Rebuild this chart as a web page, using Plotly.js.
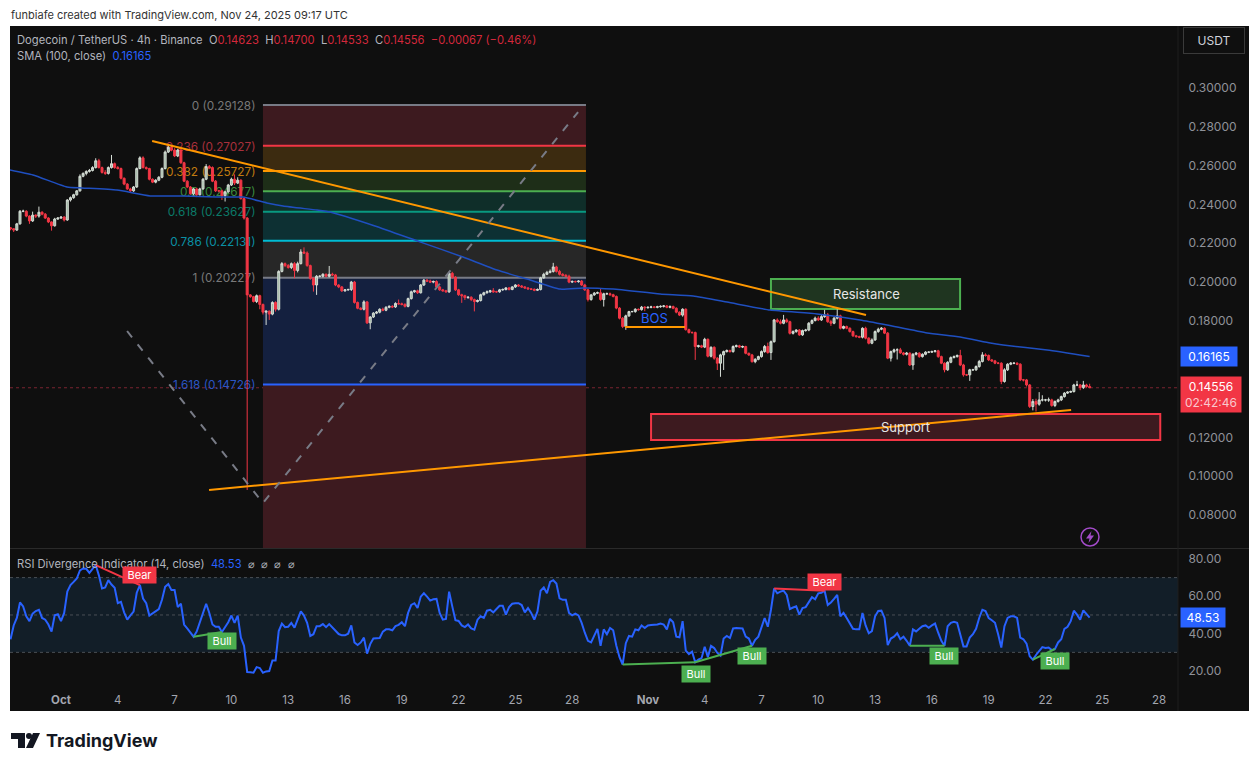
<!DOCTYPE html>
<html><head><meta charset="utf-8">
<script src="https://cdn.plot.ly/plotly-3.0.1.min.js"></script>
<style>html,body{margin:0;padding:0;background:#fff}#c{width:1259px;height:768px}</style>
</head><body><div id="c"></div>
<script>
const closes=[
.2275,.2268,.2300,.2365,.2365,.2340,.2315,.2345,.2340,.2360,
.2350,.2330,.2310,.2290,.2325,.2330,.2335,.2320,.2423,.2435,
.2450,.2470,.2545,.2560,.2570,.2575,.2590,.2625,.2590,.2565,
.2560,.2590,.2610,.2590,.2585,.2535,.2505,.2480,.2470,.2490,
.2585,.2640,.2590,.2585,.2530,.2515,.2525,.2540,.2585,.2670,
.2695,.2680,.2650,.2680,.2615,.2520,.2490,.2455,.2480,.2450,
.2480,.2530,.2595,.2590,.2520,.2470,.2470,.2445,.2465,.2500,
.2530,.2510,.2525,.2430,.2330,.1934,.1925,.1900,.1930,.1885,
.1845,.1850,.1835,.1895,.1860,.2055,.2095,.2085,.2075,.2095,
.2060,.2095,.2155,.2150,.2085,.2020,.1985,.2030,.2030,.2040,
.2030,.2040,.2037,.1985,.1975,.1955,.1960,.1962,.2000,.1895,
.1865,.1860,.1898,.1790,.1820,.1840,.1845,.1860,.1855,.1870,
.1875,.1872,.1890,.1888,.1885,.1875,.1915,.1950,.1955,.1945,
.1985,.2010,.2005,.2000,.2003,.1975,.1960,.1955,.1950,.2045,
.2025,.1960,.1935,.1930,.1920,.1922,.1910,.1900,.1905,.1935,
.1945,.1950,.1955,.1950,.1950,.1960,.1962,.1970,.1962,.1975,
.1985,.1980,.1975,.1970,.1965,.1963,.1958,.1962,.2022,.2040,
.2050,.2055,.2078,.2055,.2040,.2035,.2030,.2000,.2003,.2002,
.2005,.1985,.1960,.1910,.1934,.1943,.1945,.1910,.1940,.1940,
.1935,.1926,.1866,.1814,.1771,.1826,.1848,.1848,.1860,.1858,
.1871,.1868,.1870,.1872,.1870,.1873,.1875,.1877,.1870,.1874,
.1865,.1845,.1830,.1860,.1755,.1740,.1740,.1668,.1672,.1665,
.1705,.1618,.1664,.1608,.1582,.1625,.1642,.1647,.1642,.1668,
.1672,.1665,.1668,.1633,.1625,.1590,.1602,.1616,.1642,.1668,
.1637,.1693,.1805,.1796,.1788,.1805,.1796,.1736,.1745,.1753,
.1728,.1750,.1753,.1788,.1802,.1814,.1805,.1822,.1831,.1796,
.1788,.1814,.1826,.1762,.1771,.1762,.1745,.1723,.1719,.1716,
.1762,.1711,.1685,.1702,.1745,.1757,.1762,.1737,.1608,.1642,
.1651,.1651,.1635,.1628,.1634,.1573,.1628,.1634,.1616,.1628,
.1639,.1639,.1642,.1646,.1616,.1582,.1548,.1587,.1611,.1616,
.1622,.1573,.1522,.1522,.1548,.1548,.1565,.1591,.1625,.1622,
.1599,.1594,.1582,.1582,.1488,.1548,.1577,.1582,.1582,.1577,
.1496,.1496,.1470,.1359,.1385,.1371,.1393,.1393,.1393,.1393,
.1364,.1385,.1393,.1410,.1428,.1433,.1436,.1470,.1470,.1457,
.1470,.14623,.14556];
const firstOpen=.2280;
// wick lengths in units of 0.0001
const upperWick=[
4,3,5,6,8,5,4,18,4,29, 5,6,4,3,6,4,4,5,4,6, 5,4,10,5,6,8,7,13,10,5, 12,6,45,6,8,5,4,5,6,5,
6,8,8,6,4,4,5,6,6,8, 11,8,10,7,6,5,5,5,5,6, 6,6,13,8,6,6,5,6,5,6, 8,25,15,5,4,5,4,4,6,5,
4,4,4,6,6,6,8,6,8,6, 8,10,14,24,8,5,5,6,5,6, 5,43,8,5,4,5,4,4,6,6, 5,6,8,5,5,5,6,5,8,6,
5,6,6,20,6,6,5,6,5,6, 5,6,6,8,5,6,5,5,5,8, 8,6,5,5,5,5,5,5,5,5, 5,7,5,14,5,5,5,4,5,4,
4,5,5,5,4,4,4,5,5,8, 8,10,21,6,8,6,6,8,6,5, 5,6,6,5,5,6,6,24,5,6, 6,5,5,5,6,6,4,4,5,4,
6,5,5,6,4,5,5,5,5,6, 5,5,4,5,5,5,6,5,5,5, 8,5,5,5,5,6,5,6,5,6, 6,5,5,4,4,5,6,5,6,8,
20,6,5,8,12,26,8,5,6,4, 5,5,6,6,6,8,10,8,26,10, 10,6,34,6,5,5,5,5,5,5, 5,8,5,8,6,8,6,5,6,5,
6,8,10,5,6,4,6,6,5,5, 5,5,5,4,5,5,5,5,6,6, 5,29,6,5,5,5,6,8,14,8, 5,5,5,6,5,8,5,6,5,5,
5,5,5,5,12,14,40,24,5,12, 6,5,6,5,5,4,5,6,21,5, 21,6,14];
const lowerWick=[
8,10,4,4,5,6,15,5,10,8, 6,5,6,25,4,5,5,8,4,8, 6,5,4,5,10,6,5,5,5,6, 8,6,5,6,5,6,6,5,8,5,
5,4,5,6,6,5,6,5,5,5, 5,6,6,6,6,5,6,5,8,12, 4,4,5,8,5,6,8,22,30,5, 5,10,5,5,8,1005,6,5,8,25,
12,66,30,6,12,6,5,8,6,8, 40,10,4,5,6,8,34,51,5,6, 5,6,5,6,6,6,5,5,8,6, 5,5,6,6,33,5,5,6,5,5,
5,6,5,5,5,6,5,5,5,6, 4,5,5,5,6,6,5,4,4,6, 8,6,6,37,12,6,8,51,5,5, 5,5,6,5,5,5,5,5,5,4,
5,5,5,5,4,4,5,4,5,5, 4,5,6,6,6,6,5,6,5,5, 5,5,6,10,6,5,5,6,36,6, 5,5,6,6,8,17,5,4,6,5,
5,18,5,5,5,5,5,6,5,5, 5,6,5,8,5,5,6,69,6,5, 5,6,6,8,35,70,78,5,5,6, 5,5,5,5,6,5,8,5,5,6,
6,38,5,6,6,5,6,6,6,6, 5,5,5,6,5,5,6,5,6,6, 14,5,6,6,5,5,5,5,5,5, 6,6,6,5,5,6,5,5,5,17,
8,50,5,6,6,5,25,6,6,5, 5,5,4,5,6,5,13,5,5,4, 5,6,9,6,31,5,5,6,5,6, 6,5,5,5,14,6,6,5,5,5,
6,8,8,8,20,38,8,8,8,10, 6,8,6,6,5,4,4,5,6,14, 8,6,2];
const rsiValues=[
37.0,44.4,48.4,56.7,54.6,49.3,46.7,50.7,52.1,52.8,48.4,47.5,44.9,41.1,49.8,50.4,46.7,51.1,62.5,66.0,
67.7,69.5,73.9,74.9,74.7,72.5,74.7,76.7,71.2,64.2,64.7,68.6,66.3,64.6,56.3,57.0,51.4,47.5,49.8,51.8,
61.9,66.0,58.8,56.3,49.7,50.9,51.8,53.2,58.1,65.1,66.5,63.3,63.3,54.2,56.0,44.9,42.8,40.5,38.4,41.1,
45.8,50.2,56.0,51.1,44.9,43.7,43.7,40.9,43.2,46.1,49.7,45.8,49.7,37.9,33.5,19.5,19.3,19.1,22.1,21.6,
19.1,19.8,20.0,25.6,25.6,41.4,45.4,43.5,43.7,45.8,43.2,47.2,51.9,49.7,45.8,38.8,39.7,44.0,44.0,45.1,
43.5,45.1,43.2,41.1,39.8,39.1,39.1,40.0,44.4,35.3,33.9,35.3,37.9,29.3,34.4,37.4,37.6,37.7,41.1,42.3,
42.3,41.8,44.0,44.7,46.1,44.0,51.1,55.4,56.3,53.7,59.8,61.6,59.8,57.7,58.4,58.6,51.1,47.5,47.9,62.5,
54.6,47.2,46.8,44.4,43.5,44.9,42.8,42.1,47.5,49.3,48.4,52.3,52.8,51.4,53.2,54.9,54.9,50.2,54.2,56.0,
56.3,56.3,55.3,51.4,53.7,51.1,47.5,51.9,63.0,64.7,61.6,67.7,68.6,66.8,58.9,58.1,58.1,51.1,49.8,50.7,
49.8,45.8,40.5,36.2,35.3,39.1,42.6,33.5,42.3,39.7,43.0,41.8,33.5,27.4,23.5,34.9,38.8,38.4,42.3,41.8,
44.4,43.0,44.4,44.6,44.7,44.9,45.4,44.9,42.3,47.9,46.1,38.4,38.1,46.7,30.9,29.1,30.4,24.7,26.1,26.9,
33.0,27.4,33.5,32.3,29.7,28.3,37.4,38.8,37.7,42.8,43.0,43.0,42.8,38.4,37.4,33.5,36.7,38.4,44.0,48.4,
43.7,52.8,64.2,61.6,62.5,63.0,60.7,53.2,54.0,54.6,50.2,53.7,54.2,57.2,59.5,58.4,61.6,61.9,63.0,55.4,
56.7,58.6,60.7,49.3,51.1,48.4,45.4,42.6,42.3,42.3,51.1,44.4,40.2,41.4,49.3,52.1,52.3,48.4,33.9,37.4,
38.4,40.2,37.0,38.4,36.2,33.5,42.3,41.2,42.6,44.0,44.4,43.2,44.4,45.4,40.5,36.2,33.5,44.0,45.8,46.3,
45.8,39.7,33.2,33.2,37.9,39.7,42.6,48.4,52.8,52.1,48.4,47.2,45.8,39.7,32.6,44.0,48.4,49.3,49.3,48.4,
37.9,37.0,34.7,27.9,26.1,28.6,30.9,32.8,32.3,32.6,31.2,31.8,35.3,37.0,42.6,43.7,46.7,52.3,50.2,47.5,
52.5,50.2,48.53];
const smaDates=['2025-09-28 07:00','2025-09-29 12:30','2025-10-01 07:30','2025-10-02 02:40','2025-10-03 23:00','2025-10-05 17:00','2025-10-07 10:30','2025-10-09 05:45','2025-10-10 14:40','2025-10-11 21:00','2025-10-12 17:30','2025-10-14 12:30','2025-10-15 05:00','2025-10-17 14:00','2025-10-19 23:00','2025-10-22 05:40','2025-10-24 00:45','2025-10-25 18:40','2025-10-27 08:40','2025-10-28 14:00','2025-10-30 03:50','2025-11-01 15:30','2025-11-03 09:20','2025-11-05 04:20','2025-11-07 10:50','2025-11-09 22:30','2025-11-12 05:00','2025-11-13 15:10','2025-11-15 18:00','2025-11-17 11:50','2025-11-19 02:00','2025-11-19 18:15','2025-11-22 02:10','2025-11-24 08:00'];
const smaValues=[.2578,.2552,.2490,.2485,.2474,.2444,.2444,.2438,.2438,.2408,.2392,.2371,.2361,.2289,.2207,.2129,.2062,.2011,.1964,.1970,.1964,.1939,.1928,.1897,.1856,.1836,.1805,.1779,.1738,.1717,.1686,.1676,.1650,.16165];

const fibLabels=['0 (0.29128)','0.236 (0.27027)','0.382 (0.25727)','0.5 (0.24677)','0.618 (0.23627)','0.786 (0.22131)','1 (0.20227)','1.618 (0.14726)'];
const fibPrices=[.29128,.27027,.25727,.24677,.23627,.22131,.20227,.14726];
const fibLine=['#787b86','#f23645','#ff9800','#4caf50','#089981','#00bcd4','#787b86','#2962ff'];
const fibText=['#787878','#a8303c','#c27c10','#3a8a3e','#0b7a68','#0a8fa5','#787878','#2a55c4'];
const fibFill=['#3d1a1f','#3c2b10','#1e2e18','#0f2e29','#0d3033','#272727','#14203f','#3d1a1f'];
const fibStart='2025-10-11 16:00', fibEnd='2025-10-28 17:30', fibLabelEnd='2025-10-11 06:30', paneLow=.063;

const upperTrendX=['2025-10-05 19:30','2025-11-12 12:30'], upperTrendY=[.2727,.1830];
const lowerTrendX=['2025-10-08 19:40','2025-11-23 08:30'], lowerTrendY=[.0929,.1341];
const fibPathX=['2025-10-04 11:45','2025-10-11 16:00','2025-10-28 07:30'], fibPathY=[.1748,.0862,.2876];
const bosX=['2025-10-30 19:00','2025-11-02 23:00'], bosY=[.1769,.1769];

const priceTicks=[.30,.28,.26,.24,.22,.20,.18,.12,.10,.08];
const rsiTicks=[80,60,40,20];
const xTickDates=['2025-10-01','2025-10-04','2025-10-07','2025-10-10','2025-10-13','2025-10-16','2025-10-19','2025-10-22','2025-10-25','2025-10-28','2025-11-01','2025-11-04','2025-11-07','2025-11-10','2025-11-13','2025-11-16','2025-11-19','2025-11-22','2025-11-25','2025-11-28'];
const xTickText=['<b>Oct</b>','4','7','10','13','16','19','22','25','28','<b>Nov</b>','4','7','10','13','16','19','22','25','28'];

// divergences: [from candle, to candle, label, label date, label rsi]
const divergences=[
 [27,41,'Bear','2025-10-05 04:00',71.4],
 [58,67,'Bull','2025-10-09 12:00',36.1],
 [242,258,'Bear','2025-11-10 08:00',67.9],
 [194,217,'Bull','2025-11-03 12:45',18.5],
 [217,235,'Bull','2025-11-06 12:00',27.8],
 [285,296,'Bull','2025-11-16 15:30',28.1],
 [324,331,'Bull','2025-11-22 11:30',25.6]];

const times=closes.map((_,i)=>new Date(Date.UTC(2025,8,28,8)+i*4*3600e3).toISOString().slice(0,16).replace('T',' '));
const opens=closes.map((c,i)=>i?closes[i-1]:firstOpen);
const highs=closes.map((c,i)=>Math.max(c,opens[i])+upperWick[i]*1e-4);
const lows=closes.map((c,i)=>Math.min(c,opens[i])-lowerWick[i]*1e-4);

const FONT='Inter, "Noto Sans", sans-serif';
const px=x=>(x-10)/1168, py=y=>(686-y)/660;
const UP='#9db8a2', RED='#f23645', BLUE='#2962ff', ORANGE='#ff9800';
const pathOf=pts=>pts.map((q,i)=>(i?'L':'M')+px(q[0])+','+py(q[1])).join('')+'Z';

const line=(x,y,color,width,dash,yaxis)=>({type:'scatter',mode:'lines',x,y,yaxis:yaxis||'y',line:{color,width,dash:dash||'solid'},hoverinfo:'skip',showlegend:false});
const traces=[
 {type:'candlestick',x:times,open:opens,high:highs,low:lows,close:closes,xaxis:'x',yaxis:'y',whiskerwidth:0,
  increasing:{line:{color:'#d6ddd6',width:1},fillcolor:UP},decreasing:{line:{color:RED,width:1},fillcolor:RED},hoverinfo:'skip',showlegend:false},
 Object.assign(line(smaDates,smaValues,'#1f4fc0',1.5),{line:{color:'#1f4fc0',width:1.5,shape:'spline',smoothing:.5}}),
 line(upperTrendX,upperTrendY,ORANGE,2),
 line(lowerTrendX,lowerTrendY,ORANGE,2),
 line(fibPathX,fibPathY,'#787b86',2,'8px,9px'),
 line(bosX,bosY,ORANGE,2),
 line(times,rsiValues,BLUE,2,null,'y2')
];
divergences.forEach(d=>traces.push(line([times[d[0]],times[d[1]]],[rsiValues[d[0]],rsiValues[d[1]]],d[2]==='Bear'?RED:'#4caf50',2,null,'y2')));

const shapes=[
 {type:'rect',xref:'paper',yref:'paper',x0:px(10),x1:px(1249),y0:py(711),y1:py(26),fillcolor:'#0f0f0f',line:{width:0},layer:'below'},
];
fibPrices.forEach((p,i)=>{
 const nextP=i<fibPrices.length-1?fibPrices[i+1]:paneLow;
 shapes.push({type:'rect',xref:'x',yref:'y',x0:fibStart,x1:fibEnd,y0:nextP,y1:p,fillcolor:fibFill[i],line:{width:0},layer:'below'});
});
fibPrices.forEach((p,i)=>{
 shapes.push({type:'line',xref:'x',yref:'y',x0:fibStart,x1:fibEnd,y0:p,y1:p,line:{color:fibLine[i],width:2},layer:'below'});
 shapes.push({type:'line',xref:'x',yref:'y',x0:fibLabelEnd,x1:fibStart,y0:p,y1:p,line:{width:0},layer:'below',
  label:{text:fibLabels[i],textposition:'start',xanchor:'right',yanchor:'middle',font:{family:FONT,size:11.8,color:fibText[i]}}});
});
shapes.push(
 {type:'rect',xref:'x',yref:'y',x0:'2025-11-07 12:00',x1:'2025-11-17 11:45',y0:.1861,y1:.2016,fillcolor:'#1f3520',line:{color:'#4caf50',width:2},layer:'below'},
 {type:'rect',xref:'x',yref:'y',x0:'2025-11-01 04:00',x1:'2025-11-28 01:30',y0:.1186,y1:.1320,fillcolor:'#3d1a1f',line:{color:RED,width:2},layer:'below'},
 {type:'line',xref:'paper',yref:'y',x0:0,x1:1,y0:.14556,y1:.14556,line:{color:'#7a2530',width:1,dash:'dot'},layer:'below'},
 {type:'rect',xref:'paper',yref:'y2',x0:0,x1:1,y0:30,y1:70,fillcolor:'#121e28',line:{width:0},layer:'below'},
 {type:'line',xref:'paper',yref:'y2',x0:0,x1:1,y0:70,y1:70,line:{color:'#4a4f55',width:1,dash:'dot'},layer:'below'},
 {type:'line',xref:'paper',yref:'y2',x0:0,x1:1,y0:50,y1:50,line:{color:'#4a4f55',width:1,dash:'dot'},layer:'below'},
 {type:'line',xref:'paper',yref:'y2',x0:0,x1:1,y0:30,y1:30,line:{color:'#4a4f55',width:1,dash:'dot'},layer:'below'},
 {type:'line',xref:'paper',yref:'paper',x0:px(10),x1:px(1249),y0:py(548.5),y1:py(548.5),line:{color:'#2a2a2a',width:1}},
 {type:'line',xref:'paper',yref:'paper',x0:px(1178),x1:px(1178),y0:py(711),y1:py(26),line:{color:'#1f1f1f',width:1}},
 // lightning icon
 {type:'circle',xref:'paper',yref:'paper',x0:px(1081),x1:px(1099),y0:py(546),y1:py(528),line:{color:'#a24bc8',width:1.5},fillcolor:'rgba(0,0,0,0)'},
 {type:'path',xref:'paper',yref:'paper',path:pathOf([[1091.5,531],[1086,538.5],[1089.5,538.5],[1088.5,543],[1094,535.5],[1090.5,535.5]]),fillcolor:'#a24bc8',line:{width:0}},
 // logo
 {type:'path',xref:'paper',yref:'paper',path:pathOf([[11,733],[25,733],[25,748],[18,748],[18,739],[11,739]]),fillcolor:'#131722',line:{width:0}},
 {type:'circle',xref:'paper',yref:'paper',x0:px(26),x1:px(32),y0:py(739),y1:py(733),fillcolor:'#131722',line:{width:0}},
 {type:'path',xref:'paper',yref:'paper',path:pathOf([[33,733],[40,733],[33,748],[26,748]]),fillcolor:'#131722',line:{width:0}}
);

const T=(x,y,text,size,color,anchor,extra)=>Object.assign({xref:'paper',yref:'paper',x:px(x),y:py(y),text,showarrow:false,xanchor:anchor||'left',yanchor:'middle',font:{family:FONT,size,color}},extra||{});
const G='#b2b5be', R='#d4283c';
const rs=s=>`<span style="color:${R}">${s}</span>`;
const annotations=[
 T(9,15,'funbiafe created with TradingView.com, Nov 24, 2025 09:17 UTC',11,'#333'),
 T(15,39.5,'Dogecoin / TetherUS · 4h · Binance  O'+rs('0.14623')+'  H'+rs('0.14700')+'  L'+rs('0.14533')+'  C'+rs('0.14556')+'  '+rs('−0.00067 (−0.46%)'),11.2,G),
 T(15,56,'SMA (100, close)  <span style="color:#2962ff">0.16165</span>',11.2,G),
 T(15,564,'RSI Divergence Indicator (14, close)  <span style="color:#2962ff">48.53</span>  ⌀  ⌀  ⌀  ⌀',11.2,G),
 T(1214,41,'USDT',12,'#d1d4dc','center',{bordercolor:'#3a3a3a',borderwidth:1,borderpad:5,width:50}),
 T(1208.5,356.5,'0.16165',12,'#fff','center',{bgcolor:BLUE,borderpad:2,width:52}),
 T(1210.5,394,'0.14556<br><span style="color:#f9c8cd">02:42:46</span>',12,'#fff','center',{bgcolor:RED,borderpad:2,width:56}),
 T(1202.5,617.5,'48.53',12,'#fff','center',{bgcolor:BLUE,borderpad:2,width:40}),
 T(44,740,'<b>TradingView</b>',18,'#131722'),
 {xref:'x',yref:'y',x:'2025-11-12 12:40',y:.1939,text:'Resistance',showarrow:false,font:{family:FONT,size:13,color:'#e6e6e6'}},
 {xref:'x',yref:'y',x:'2025-11-14 14:00',y:.1254,text:'Support',showarrow:false,font:{family:FONT,size:13,color:'#e6e6e6'}},
 {xref:'x',yref:'y',x:'2025-11-01 08:00',y:.1815,text:'BOS',showarrow:false,font:{family:FONT,size:13,color:BLUE}}
];
divergences.forEach(d=>annotations.push({xref:'x',yref:'y2',x:d[3],y:d[4],text:d[2],showarrow:false,bgcolor:d[2]==='Bear'?RED:'#4caf50',borderpad:1,height:14,width:d[2]==='Bear'?31:26,font:{family:FONT,size:11,color:'#fff'}}));

const layout={
 width:1259,height:768,margin:{l:10,r:81,t:26,b:82,pad:0},
 paper_bgcolor:'#ffffff',plot_bgcolor:'#0f0f0f',showlegend:false,boxgap:.1,
 font:{family:FONT},
 xaxis:{type:'date',anchor:'y2',range:['2025-09-28 07:20','2025-11-29 00:00'],rangeslider:{visible:false},tickmode:'array',tickvals:xTickDates,ticktext:xTickText,
  tickfont:{family:FONT,size:11.5,color:'#a3a6af'},showgrid:false,zeroline:false,showline:false,ticks:'outside',ticklen:3,tickcolor:'rgba(0,0,0,0)'},
 yaxis:{domain:[(686-548)/660,1],side:'right',range:[.0630,.33194],tickmode:'array',tickvals:priceTicks,tickformat:'.5f',
  tickfont:{family:FONT,size:12,color:'#8f9299'},showgrid:false,zeroline:false,showline:false,ticks:'outside',ticklen:7,tickcolor:'rgba(0,0,0,0)'},
 yaxis2:{domain:[0,(686-549)/660],side:'right',anchor:'x',range:[12,85.3],tickmode:'array',tickvals:rsiTicks,tickformat:'.2f',
  tickfont:{family:FONT,size:12,color:'#8f9299'},showgrid:false,zeroline:false,showline:false,ticks:'outside',ticklen:7,tickcolor:'rgba(0,0,0,0)'},
 shapes,annotations
};
Plotly.newPlot('c',traces,layout,{displayModeBar:false,staticPlot:true});
</script></body></html>
